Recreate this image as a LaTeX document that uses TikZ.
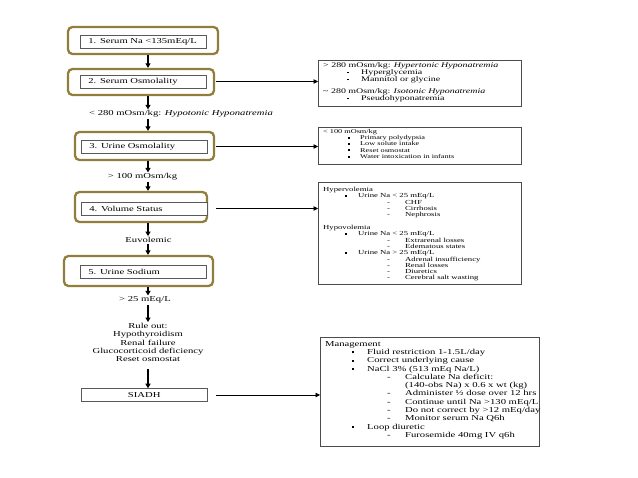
\documentclass[tikz,border=0pt]{standalone}
\usepackage{fontspec}
\setmainfont{Liberation Serif}[FakeStretch=1.4]
\usetikzlibrary{arrows.meta,positioning}

\definecolor{olivebox}{RGB}{145,126,60}
\newcommand{\bsq}{\rule[0.35ex]{1.8pt}{1.8pt}}
\newcommand{\bul}[2]{\hspace*{#1}\makebox[#2][l]{\bsq}}
\newcommand{\dsh}[2]{\hspace*{#1}\makebox[#2][l]{-}}

\begin{document}
\begin{tikzpicture}[
			x=1pt, y=-1pt,
			outer/.style={
				draw=olivebox,
				line width=2.3pt,
				rounded corners=4.5pt,
				inner sep=0,
			},
			inbox/.style={
				draw=black!65,
				line width=0.5pt,
				fill=white,
				minimum height=13pt,
				inner xsep=8pt,
				inner ysep=0,
				text width=110pt,
				align=left,
				anchor=west,
				font=\fontsize{7.6}{8.3}\selectfont,
			},
			lbl/.style={
				inner sep=1pt,
				align=center,
				font=\fontsize{7.6}{8.3}\selectfont,
			},
			rbox/.style={
				draw=black!70,
				line width=0.5pt,
				inner sep=0,
				anchor=north west,
			},
			rtxt/.style={
				anchor=north west,
				align=left,
				inner sep=0,
			},
			arr/.style={-{Triangle[length=4.5pt,width=5pt]}, line width=1.1pt},
			link/.style={-{Triangle[length=4.5pt,width=4.5pt]}, line width=0.6pt},
		]
		\useasboundingbox (0,0) rectangle (638,478);
		\coordinate (ax) at (148,0);
		\coordinate (lx) at (216,0);

		% left column
		\node[outer, minimum width=150, minimum height=27] (o1) at (143,40.5) {};
		\node[inbox] (i1) at (80,41.5) {1. Serum Na <135mEq/L};

		\node[outer, minimum width=146, minimum height=26] (o2) at (141,82) {};
		\node[inbox] (i2) at (80,81.5) {2. Serum Osmolality};

		\node[lbl] (l1) at (181,114) {< 280 mOsm/kg: \textit{Hypotonic Hyponatremia}};

		\node[outer, minimum width=139, minimum height=28] (o3) at (144.5,146) {};
		\node[inbox] (i3) at (81,146.5) {3. Urine Osmolality};

		\node[lbl] (l2) at (142.5,177) {> 100 mOsm/kg};

		\node[outer, minimum width=132, minimum height=30] (o4) at (141,207) {};
		\node[inbox] (i4) at (81,208.5) {4. Volume Status};

		\node[lbl] (l3) at (148.5,240) {Euvolemic};

		\node[outer, minimum width=149, minimum height=30] (o5) at (138.5,271) {};
		\node[inbox] (i5) at (80,271.5) {5. Urine Sodium};

		\node[lbl] (l4) at (145,300) {> 25 mEq/L};

		\node[lbl] (ro) at (148,342.5) {Rule out:\\Hypothyroidism\\Renal failure\\Glucocorticoid deficiency\\Reset osmostat};

		\node[inbox, align=center] (sia) at (81,395) {SIADH};

		\draw[arr] (o1.south -| ax) -- (o2.north -| ax);
		\draw[arr] (o2.south -| ax) -- (l1.north -| ax);
		\draw[arr] (l1.south -| ax) -- (o3.north -| ax);
		\draw[arr] (o3.south -| ax) -- (l2.north -| ax);
		\draw[arr] (l2.south -| ax) -- (o4.north -| ax);
		\draw[arr] (o4.south -| ax) -- (l3.north -| ax);
		\draw[arr] (l3.south -| ax) -- (o5.north -| ax);
		\draw[arr] (o5.south -| ax) -- (l4.north -| ax);
		\draw[arr] (l4.south -| ax) -- (ro.north -| ax);
		\draw[arr, shorten <=6pt] (ro.south -| ax) -- (sia.north -| ax);

		% right column
		\node[rbox, minimum width=203, minimum height=46] (rA) at (318,60) {};
		\node[rtxt, font=\fontsize{7.1}{7}\selectfont] (tA) at (323,62.5) {%
			> 280 mOsm/kg: \textit{Hypertonic Hyponatremia}\\
			\bul{24pt}{14pt}Hyperglycemia\\
			\bul{24pt}{14pt}Mannitol or glycine\\[5pt]
			\textasciitilde\ 280 mOsm/kg: \textit{Isotonic Hyponatremia}\\
			\bul{24pt}{14pt}Pseudohyponatremia};

		\node[rbox, minimum width=203, minimum height=37] (rB) at (318,127) {};
		\node[rtxt, font=\fontsize{5.9}{6.3}\selectfont] (tB) at (323,129) {%
			< 100 mOsm/kg\\
			\bul{25pt}{12pt}Primary polydypsia\\
			\bul{25pt}{12pt}Low solute intake\\
			\bul{25pt}{12pt}Reset osmostat\\
			\bul{25pt}{12pt}Water intoxication in infants};

		\node[rbox, minimum width=203, minimum height=102] (rC) at (318,182) {};
		\node[rtxt, font=\fontsize{6.2}{6.3}\selectfont] (tC) at (323,187) {%
			Hypervolemia\\
			\bul{22pt}{13pt}Urine Na < 25 mEq/L\\
			\dsh{64pt}{18pt}CHF\\
			\dsh{64pt}{18pt}Cirrhosis\\
			\dsh{64pt}{18pt}Nephrosis\\[6.5pt]
			Hypovolemia\\
			\bul{22pt}{13pt}Urine Na < 25 mEq/L\\
			\dsh{64pt}{18pt}Extrarenal losses\\
			\dsh{64pt}{18pt}Edematous states\\
			\bul{22pt}{13pt}Urine Na > 25 mEq/L\\
			\dsh{64pt}{18pt}Adrenal insufficiency\\
			\dsh{64pt}{18pt}Renal losses\\
			\dsh{64pt}{18pt}Diuretics\\
			\dsh{64pt}{18pt}Cerebral salt wasting};

		\node[rbox, minimum width=219, minimum height=109] (rD) at (320,337) {};
		\node[rtxt, font=\fontsize{7.6}{8.3}\selectfont] (tD) at (325,341) {%
			Management\\
			\bul{27pt}{15pt}Fluid restriction 1-1.5L/day\\
			\bul{27pt}{15pt}Correct underlying cause\\
			\bul{27pt}{15pt}NaCl 3\% (513 mEq Na/L)\\
			\dsh{62pt}{18pt}Calculate Na deficit:\\
			\hspace*{80pt}(140-obs Na) x 0.6 x wt (kg)\\
			\dsh{62pt}{18pt}Administer ½ dose over 12 hrs\\
			\dsh{62pt}{18pt}Continue until Na >130 mEq/L\\
			\dsh{62pt}{18pt}Do not correct by >12 mEq/day\\
			\dsh{62pt}{18pt}Monitor serum Na Q6h\\
			\bul{27pt}{15pt}Loop diuretic\\
			\dsh{62pt}{18pt}Furosemide 40mg IV q6h};

		\draw[link] (i2.east -| lx) -- (i2.east -| rA.west);
		\draw[link] (i3.east -| lx) -- (i3.east -| rB.west);
		\draw[link] (i4.east -| lx) -- (i4.east -| rC.west);
		\draw[link] (sia.east -| lx) -- (sia.east -| rD.west);

	\end{tikzpicture}
\end{document}
